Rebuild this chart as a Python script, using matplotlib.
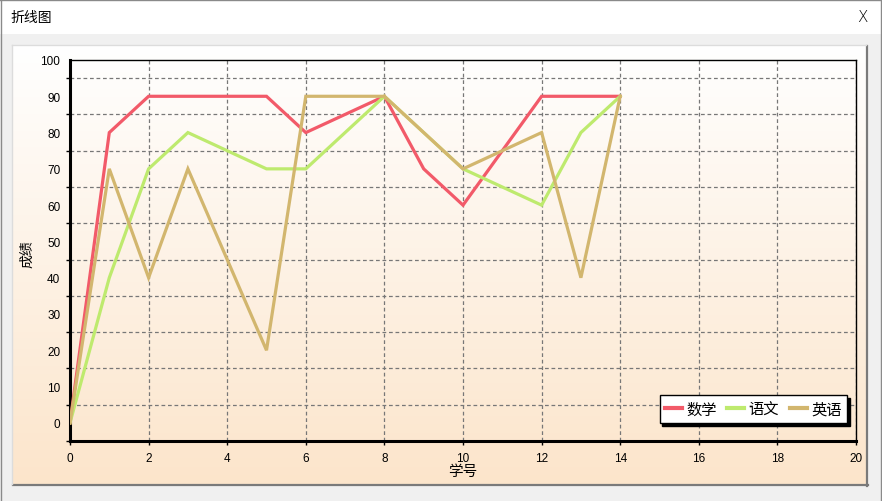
import numpy as np
import matplotlib
matplotlib.use("Agg")
import matplotlib.pyplot as plt
from matplotlib.patches import Rectangle
from matplotlib.lines import Line2D

plt.rcParams['font.family'] = ['Liberation Sans', 'Noto Sans CJK SC', 'DejaVu Sans']

# ---- data ----
student_ids = list(range(15))
math_scores = [0, 80, 90, 90, 90, 90, 80, 85, 90, 70, 60, 75, 90, 90, 90]
chinese_scores = [0, 40, 70, 80, 75, 70, 70, 80, 90, 80, 70, 65, 60, 80, 90]
english_scores = [0, 70, 40, 70, 45, 20, 90, 90, 90, 80, 70, 75, 80, 40, 90]
series_names = ['数学', '语文', '英语']
series_colors = ['#F25A69', '#BEEA6E', '#D2B66E']
x_ticks = list(range(0, 21, 2))
y_labels = list(range(0, 101, 10))
y_grid = list(range(-5, 100, 10))

W, H = 882, 502
fig = plt.figure(figsize=(W / 100, H / 100), dpi=100)
fig.patch.set_facecolor('#F0F0F0')

def fx(x):
    return x / W

def fy(y):
    return 1 - y / H

# window chrome
fig.patches.append(Rectangle((0, fy(35)), 1, 35 / H, transform=fig.transFigure,
                             facecolor='white', edgecolor='none', zorder=0))
fig.text(fx(10), fy(18), '折线图', fontsize=10, va='center', ha='left',
         family=['Noto Sans CJK SC', 'DejaVu Sans'])
fig.text(fx(862), fy(17), 'X', fontsize=11, va='center', ha='center',
         family=['DejaVu Sans'], fontweight='light')
# outer window border
fig.add_artist(Line2D([fx(0.5), fx(0.5)], [0, 1], transform=fig.transFigure, color='#8a8a8a', lw=1))
fig.add_artist(Line2D([fx(880.5), fx(880.5)], [0, 1], transform=fig.transFigure, color='#8a8a8a', lw=1))
fig.add_artist(Line2D([0, 1], [fy(0.5), fy(0.5)], transform=fig.transFigure, color='#8a8a8a', lw=1))

# chart panel with gradient
px0, py0, px1, py1 = 13, 47, 866, 485
bg = fig.add_axes([fx(px0), fy(py1), fx(px1 - px0), (py1 - py0) / H], zorder=0)
top = np.array([255, 255, 255]) / 255
bot = np.array([252, 229, 203]) / 255
t = np.linspace(0, 1, 256)[:, None]
grad = top[None, :] * (1 - t) + bot[None, :] * t
bg.imshow(grad[:, None, :], aspect='auto', extent=[0, 1, 0, 1])
bg.set_axis_off()
# panel borders
fig.add_artist(Line2D([fx(px1 + 1), fx(px1 + 1)], [fy(py1 + 2), fy(py0)], transform=fig.transFigure, color='#7a7a7a', lw=1.6))
fig.add_artist(Line2D([fx(px0), fx(px1 + 2)], [fy(py1 + 1), fy(py1 + 1)], transform=fig.transFigure, color='#7a7a7a', lw=1.6))
fig.add_artist(Line2D([fx(px0 - 1), fx(px0 - 1)], [fy(py1), fy(py0 - 1)], transform=fig.transFigure, color='#dcdcdc', lw=1))
fig.add_artist(Line2D([fx(px0 - 1), fx(px1)], [fy(py0 - 1), fy(py0 - 1)], transform=fig.transFigure, color='#dcdcdc', lw=1))

# main plot axes
ax0, ay0, ax1, ay1 = 70, 61, 856, 442
ax = fig.add_axes([fx(ax0), fy(ay1), fx(ax1 - ax0), (ay1 - ay0) / H], zorder=2)
ax.patch.set_alpha(0)

for vals, name, col in zip([math_scores, chinese_scores, english_scores], series_names, series_colors):
    ax.plot(student_ids, vals, color=col, lw=2.3, label=name, solid_joinstyle='miter', zorder=3)

ax.set_xlim(0, 20)
ax.set_ylim(-5, 100)
ax.set_xticks(x_ticks)
ax.set_yticks(y_grid)
ax.set_yticklabels([])
ax.set_yticks(y_labels, minor=True)
ax.set_yticklabels([str(v) for v in y_labels], minor=True)
ax.tick_params(axis='y', which='minor', length=0, pad=7, labelsize=8.5)
ax.tick_params(axis='y', which='major', length=3, width=1, direction='out')
ax.tick_params(axis='x', which='major', length=3, width=1, direction='out', pad=5, labelsize=8.5)
ax.grid(True, which='major', color='#777777', lw=0.9, linestyle=(0, (3, 2.2)), zorder=1)

for s in ['left', 'bottom']:
    ax.spines[s].set_linewidth(2.2)
for s in ['top', 'right']:
    ax.spines[s].set_linewidth(1.0)

ax.set_xlabel('学号', fontsize=10.5, labelpad=0, family=['Noto Sans CJK SC', 'DejaVu Sans'])
ax.set_ylabel('成绩', fontsize=10, family=['Noto Sans CJK SC', 'DejaVu Sans'])
ax.yaxis.set_label_coords((34 - ax0) / (ax1 - ax0), (ay1 - 254) / (ay1 - ay0))

leg = ax.legend(loc='lower right', bbox_to_anchor=((847 - ax0) / (ax1 - ax0), (ay1 - 424) / (ay1 - ay0)),
                borderaxespad=0, ncol=3, fancybox=False, framealpha=1, edgecolor='black',
                shadow={'color': 'black', 'alpha': 1}, handlelength=1.1, handletextpad=0.28,
                columnspacing=0.72, borderpad=0.35,
                prop={'family': ['Noto Sans CJK SC', 'DejaVu Sans'], 'size': 11})
leg.get_frame().set_linewidth(1.0)
leg.set_zorder(5)
for h in leg.get_lines():
    h.set_linewidth(3)

fig.savefig('out.png', dpi=100)
